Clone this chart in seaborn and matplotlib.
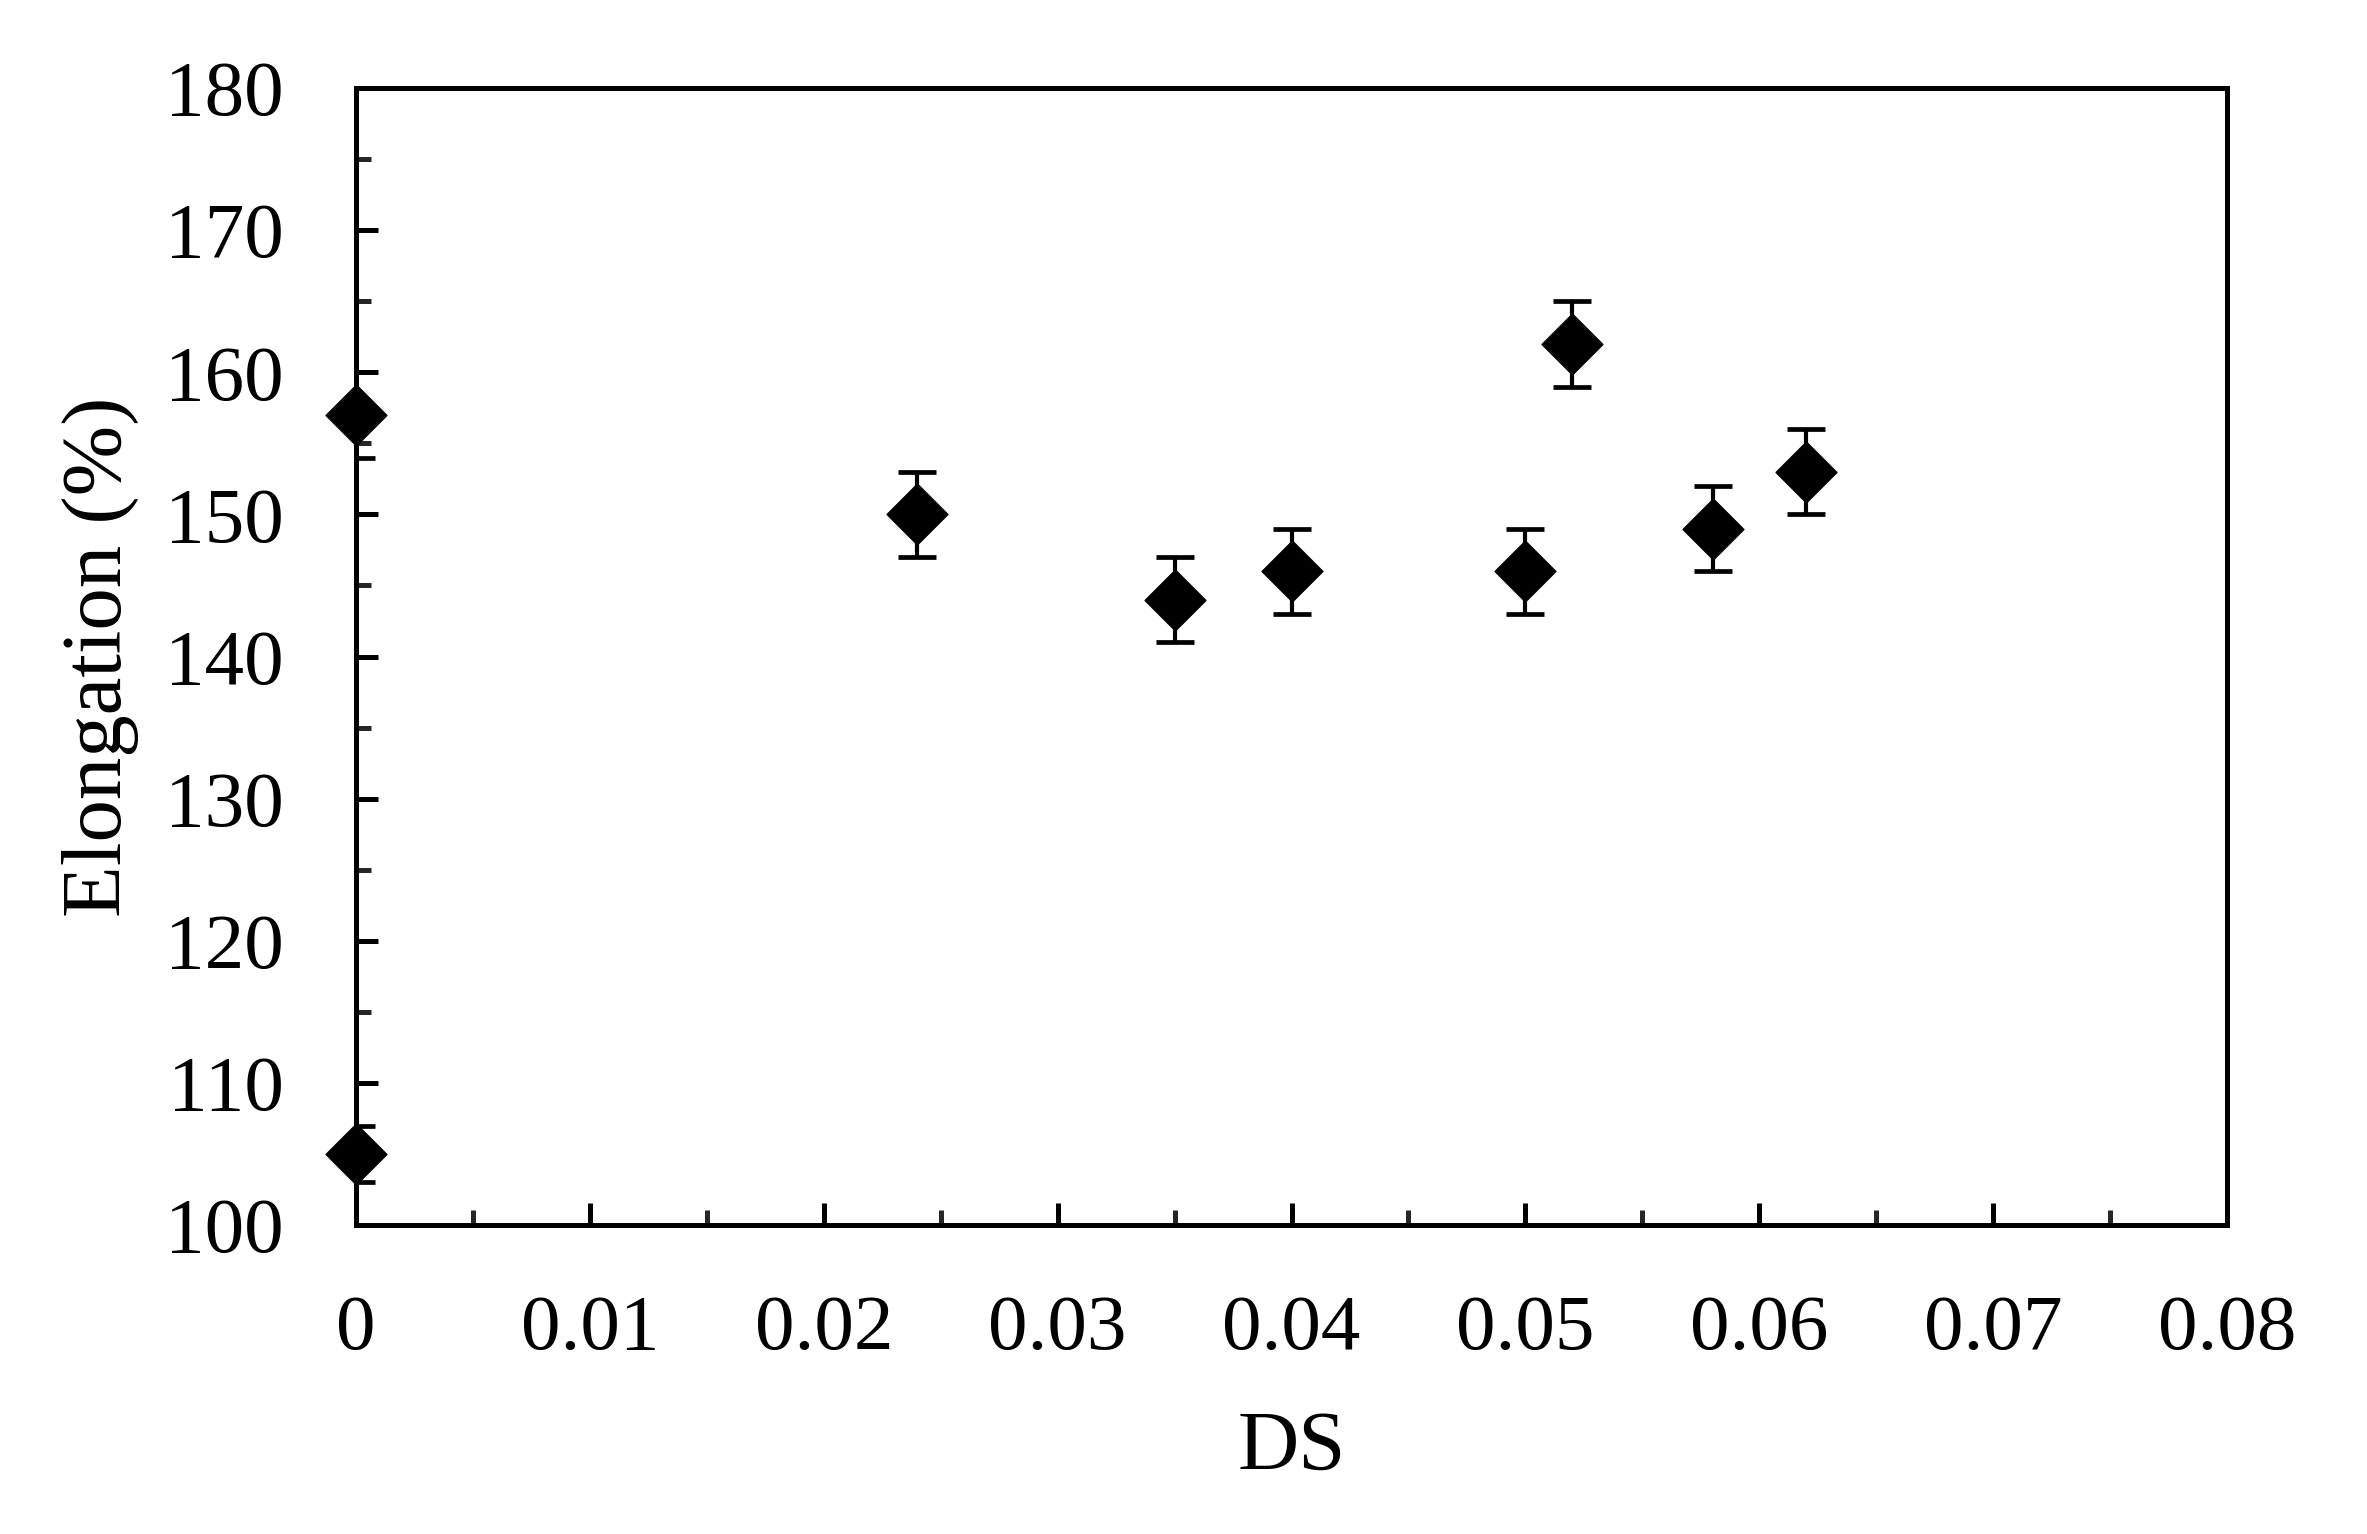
import numpy as np
import pandas as pd
import seaborn as sns
import matplotlib
matplotlib.use("Agg")
import matplotlib.pyplot as plt
from matplotlib.ticker import MultipleLocator

# data
ds = [0.0, 0.0, 0.024, 0.035, 0.040, 0.050, 0.052, 0.058, 0.062]
elongation = [157, 105, 150, 144, 146, 146, 162, 149, 153]
err = [3, 2, 3, 3, 3, 3, 3, 3, 3]
xtick_labels = ["0", "0.01", "0.02", "0.03", "0.04", "0.05", "0.06", "0.07", "0.08"]

df = pd.DataFrame({"DS": ds, "Elongation": elongation, "err": err})

sns.set_theme(style="ticks")
plt.rcParams["font.family"] = ["Liberation Serif", "DejaVu Serif"]

fig = plt.figure(figsize=(23.67, 15.34), dpi=100)
ax = fig.add_axes([0.1504, 0.2014, 0.7905, 0.7412])

# error bars (clipped at the plot area like the original)
ax.errorbar(df["DS"], df["Elongation"], yerr=df["err"], fmt="none",
            ecolor="black", elinewidth=3, capsize=14, capthick=3.4,
            zorder=2)

sns.scatterplot(data=df, x="DS", y="Elongation", marker="D", s=960,
                color="black", edgecolor="black", linewidth=1,
                ax=ax, zorder=3, clip_on=False, legend=False)

ax.set_xlim(0, 0.08)
ax.set_ylim(100, 180)
ax.set_xticks(np.arange(0, 0.0801, 0.01))
ax.set_xticklabels(xtick_labels)
ax.xaxis.set_minor_locator(MultipleLocator(0.005))
ax.yaxis.set_major_locator(MultipleLocator(10))
ax.yaxis.set_minor_locator(MultipleLocator(5))

ax.tick_params(axis="both", which="major", direction="in", length=16,
               width=3.6, labelsize=57, colors="black")
ax.tick_params(axis="x", which="major", pad=50)
ax.tick_params(axis="y", which="major", pad=52)
ax.tick_params(axis="both", which="minor", direction="in", length=11,
               width=3.6)

for side in ["top", "right", "bottom", "left"]:
    ax.spines[side].set_visible(True)
    ax.spines[side].set_linewidth(3.6)
    ax.spines[side].set_color("black")

ax.set_xlabel("DS", fontsize=61, color="black")
ax.set_ylabel("Elongation (%)", fontsize=61, color="black")
ax.xaxis.set_label_coords(0.5, -0.163)
ax.yaxis.set_label_coords(-0.116, 0.5)

fig.savefig("out.png", dpi=100, facecolor="white")
